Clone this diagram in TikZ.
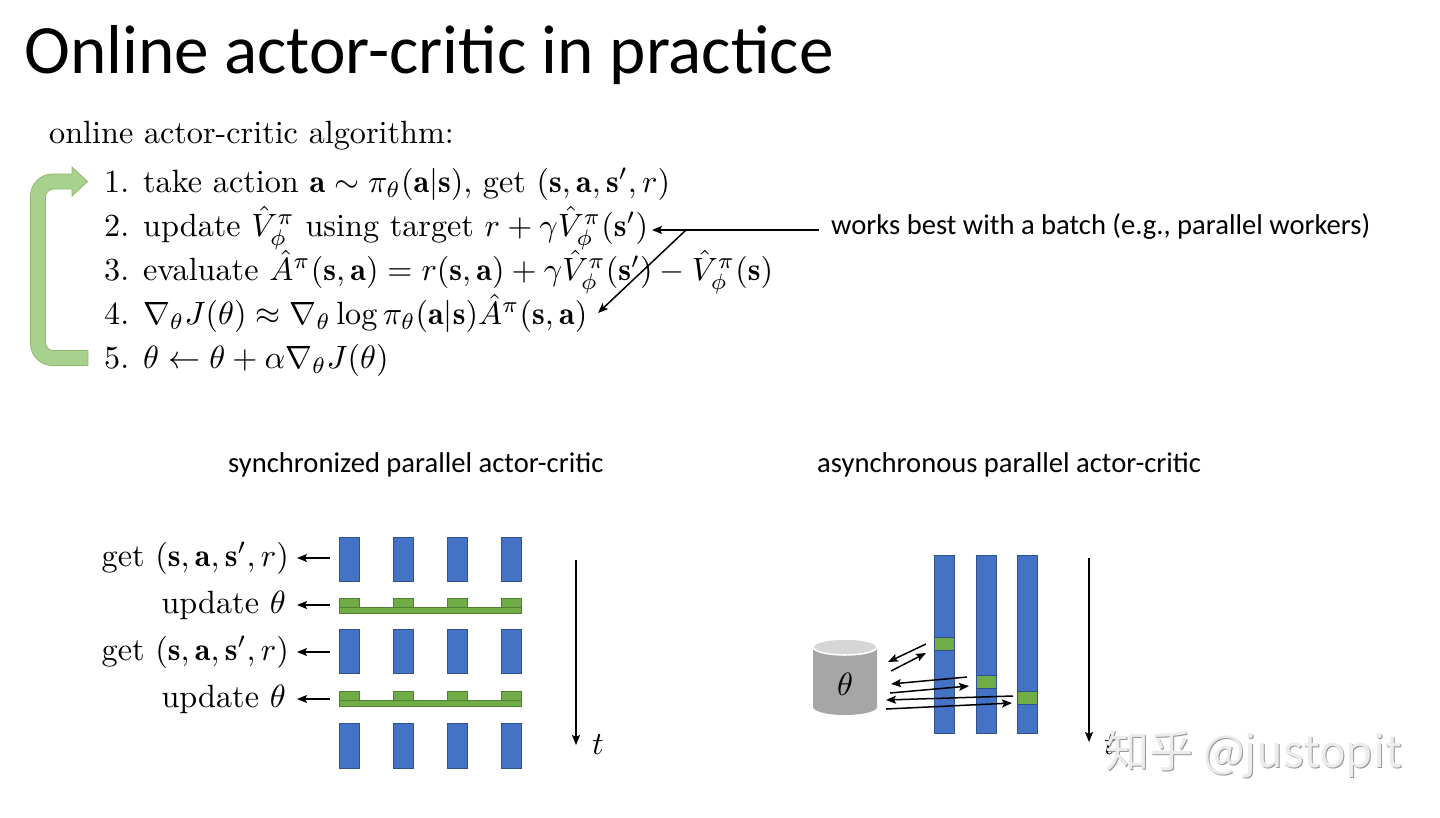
\documentclass[tikz,border=0pt]{standalone}
\usepackage{amsmath,amssymb}
\usepackage{graphicx}
\usepackage{fontspec}
\newfontfamily\calibrifont{Carlito}
\newfontfamily\cjkfont{Noto Sans CJK SC}
\usetikzlibrary{arrows.meta}
\definecolor{blueF}{RGB}{68,114,196}
\definecolor{blueD}{RGB}{47,82,143}
\definecolor{greenF}{RGB}{112,173,71}
\definecolor{greenD}{RGB}{80,126,50}
\definecolor{arrF}{RGB}{169,209,142}
\definecolor{arrD}{RGB}{140,185,110}
\definecolor{cylBody}{RGB}{166,166,166}
\definecolor{cylTop}{RGB}{214,214,214}
\definecolor{wmFront}{RGB}{236,236,236}
\definecolor{wmBack}{RGB}{150,150,150}
\newcommand{\tx}[1]{\scalebox{3.22}{\fontsize{10}{12}\selectfont #1}}
\newcommand{\numb}[1]{\makebox[12.1pt][l]{#1}}
\tikzset{
  txt/.style={inner sep=0pt, anchor=base west},
  txtr/.style={inner sep=0pt, anchor=base east},
  bluebar/.style={rectangle, inner sep=0pt, fill=blueF, draw=blueD, line width=1pt},
  greenbar/.style={rectangle, inner sep=0pt, fill=greenF, draw=greenD, line width=1pt},
  arr/.style={-{Stealth[length=10pt,width=8pt,inset=2pt]}, line width=1.5pt},
  calib/.style={inner sep=0pt, anchor=base west, font=\calibrifont\fontsize{28.6}{34}\selectfont}
}
\begin{document}
\begin{tikzpicture}[x=1pt,y=-1pt]
\useasboundingbox (0,0) rectangle (1440,817);
\fill[white] (0,0) rectangle (1440,817);

% title
\node[inner sep=0pt, anchor=base west, font=\calibrifont\fontsize{69.2}{80}\selectfont] (title) at (24,73) {Online actor-critic in practice};

% algorithm
\node[txt] (hdr) at (49,143.5) {\tx{online actor-critic algorithm:}};
\node[txt] (l1) at (104,192.5) {\tx{\numb{1.}take action $\mathbf{a}\sim\pi_\theta(\mathbf{a}|\mathbf{s})$, get $(\mathbf{s},\mathbf{a},\mathbf{s}',r)$}};
\node[txt] (l2) at (104,236.5) {\tx{\numb{2.}update $\hat V^\pi_\phi$ using target $r+\gamma\hat V^\pi_\phi(\mathbf{s}')$}};
\node[txt] (l3) at (104,280.5) {\tx{\numb{3.}evaluate $\hat A^\pi(\mathbf{s},\mathbf{a})=r(\mathbf{s},\mathbf{a})+\gamma\hat V^\pi_\phi(\mathbf{s}')-\hat V^\pi_\phi(\mathbf{s})$}};
\node[txt] (l4) at (104,324.5) {\tx{\numb{4.}$\nabla_\theta J(\theta)\approx\nabla_\theta\log\pi_\theta(\mathbf{a}|\mathbf{s})\hat A^\pi(\mathbf{s},\mathbf{a})$}};
\node[txt] (l5) at (104,368.5) {\tx{\numb{5.}$\theta\leftarrow\theta+\alpha\nabla_\theta J(\theta)$}};

% green loop arrow
\filldraw[fill=arrF, draw=arrD, line width=0.8pt]
  (88,365.5) -- (52.5,365.5) .. controls (40.4,365.5) and (30.5,355.6) .. (30.5,343.5)
  -- (30.5,196) .. controls (30.5,183.9) and (40.4,174) .. (52.5,174)
  -- (72,174) -- (72,167) -- (87.5,181.5) -- (72,196) -- (72,189)
  -- (53.5,189) .. controls (49.1,189) and (45.5,192.6) .. (45.5,197)
  -- (45.5,342.5) .. controls (45.5,346.9) and (49.1,350.5) .. (53.5,350.5)
  -- (88,350.5) -- cycle;

% note
\node[calib] (note) at (831,234) {works best with a batch (e.g., parallel workers)};
\coordinate (nstart) at (819,230);
\coordinate (l2end) at (652,230);
\coordinate (split) at (686,230);
\coordinate (l4end) at (598,313);
\draw[arr] (nstart) -- (l2end);
\draw[arr] (split) -- (l4end);

% subtitles
\node[calib] (synct) at (228,472) {synchronized parallel actor-critic};
\node[calib] (asynct) at (817,472) {asynchronous parallel actor-critic};

% synchronized diagram
\foreach \c/\x in {1/349,2/403,3/457,4/511}{
  \node[bluebar, minimum width=20pt, minimum height=44pt] (ba\c) at (\x,559) {};
  \node[bluebar, minimum width=20pt, minimum height=44pt] (bb\c) at (\x,651) {};
  \node[bluebar, minimum width=20pt, minimum height=45pt] (bc\c) at (\x,745.5) {};
}
\node[greenbar, minimum width=182pt, minimum height=6pt] (ga) at (430,610) {};
\node[greenbar, minimum width=182pt, minimum height=6pt] (gb) at (430,703) {};
\foreach \c/\x in {1/349,2/403,3/457,4/511}{
  \node[greenbar, minimum width=20pt, minimum height=9pt] (gac\c) at (\x,602.5) {};
  \node[greenbar, minimum width=20pt, minimum height=9pt] (gbc\c) at (\x,695.5) {};
}
\node[txtr] (get1) at (289,566) {\tx{get $(\mathbf{s},\mathbf{a},\mathbf{s}',r)$}};
\node[txtr] (upd1) at (286,613.5) {\tx{update $\theta$}};
\node[txtr] (get2) at (289,660) {\tx{get $(\mathbf{s},\mathbf{a},\mathbf{s}',r)$}};
\node[txtr] (upd2) at (286,707) {\tx{update $\theta$}};
\coordinate (s1) at (330,558); \coordinate (e1) at (297,558);
\coordinate (s2) at (330,605); \coordinate (e2) at (297,605);
\coordinate (s3) at (330,652); \coordinate (e3) at (297,652);
\coordinate (s4) at (330,699); \coordinate (e4) at (297,699);
\foreach \i in {1,2,3,4}{\draw[arr] (s\i) -- (e\i);}
\coordinate (tA) at (576,560);
\coordinate (tB) at (576,745);
\draw[arr] (tA) -- (tB);
\node[txt] (tlab) at (592,754) {\tx{$t$}};

% asynchronous diagram
\node[bluebar, minimum width=20pt, minimum height=178pt] (w1) at (944.5,644) {};
\node[bluebar, minimum width=20pt, minimum height=178pt] (w2) at (986.5,644) {};
\node[bluebar, minimum width=20pt, minimum height=178pt] (w3) at (1027.5,644) {};
\node[rectangle, inner sep=0pt, fill=greenF, draw=blueD, line width=1pt, minimum width=20pt, minimum height=13pt] (u1) at (944.5,643.5) {};
\node[rectangle, inner sep=0pt, fill=greenF, draw=blueD, line width=1pt, minimum width=20pt, minimum height=13pt] (u2) at (986.5,681.5) {};
\node[rectangle, inner sep=0pt, fill=greenF, draw=blueD, line width=1pt, minimum width=20pt, minimum height=13pt] (u3) at (1027.5,698) {};

% parameter store cylinder
\fill[cylBody] (813,647) -- (813,707) .. controls (813,711.4) and (827.3,715) .. (845,715)
  .. controls (862.7,715) and (877,711.4) .. (877,707) -- (877,647) -- cycle;
\fill[cylTop] (845,647) ellipse [x radius=32pt, y radius=8pt];
\draw[white, line width=1.5pt] (845,647) ellipse [x radius=32pt, y radius=8pt];
\node[inner sep=0pt] (theta) at (845,684) {\tx{$\theta$}};

\coordinate (p1s) at (926,644); \coordinate (p1e) at (888,662);
\coordinate (p2s) at (891,671); \coordinate (p2e) at (926,653);
\coordinate (p3s) at (967,677); \coordinate (p3e) at (891,684);
\coordinate (p4s) at (890,693); \coordinate (p4e) at (969,686);
\coordinate (p5s) at (1013,696); \coordinate (p5e) at (886,700);
\coordinate (p6s) at (886,709); \coordinate (p6e) at (1012,703);
\foreach \i in {1,...,6}{\draw[arr] (p\i s) -- (p\i e);}

\coordinate (tC) at (1089,558);
\coordinate (tD) at (1089,742);
\draw[arr] (tC) -- (tD);
\node[txt] (tlab2) at (1104,754) {\tx{$t$}};

% watermark
\node[inner sep=0pt, anchor=base west, text=wmBack, font=\cjkfont\fontsize{44}{50}\selectfont] (wmb) at (1106.2,768.2) {知乎 @justopit};
\node[inner sep=0pt, anchor=base west, text=wmFront, font=\cjkfont\fontsize{44}{50}\selectfont] (wm) at (1105,767) {知乎 @justopit};
\end{tikzpicture}
\end{document}
